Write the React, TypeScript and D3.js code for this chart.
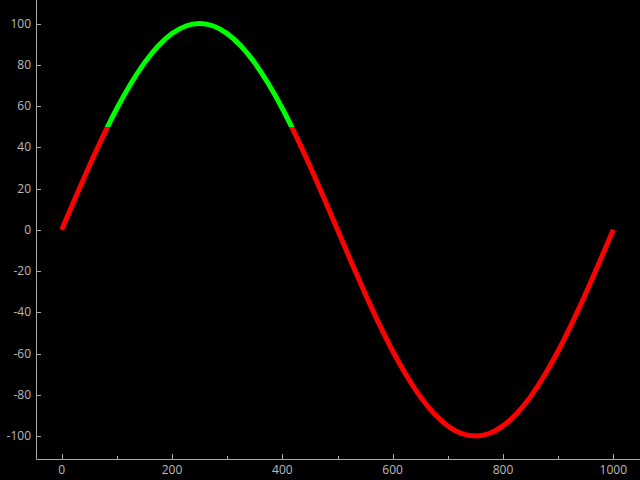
import React from "react";
import * as d3 from "d3";

const xValues = [0,25,50,75,100,125,150,175,200,225,250,275,300,325,350,375,400,425,450,475,500,525,550,575,600,625,650,675,700,725,750,775,800,825,850,875,900,925,950,975,1000];
const yValues = [0,15.6,30.9,45.4,58.8,70.7,80.9,89.1,95.1,98.8,100,98.8,95.1,89.1,80.9,70.7,58.8,45.4,30.9,15.6,0,-15.6,-30.9,-45.4,-58.8,-70.7,-80.9,-89.1,-95.1,-98.8,-100,-98.8,-95.1,-89.1,-80.9,-70.7,-58.8,-45.4,-30.9,-15.6,0];
const xTicks = [0,200,400,600,800,1000];
const xMinorTicks = [100,300,500,700,900];
const yTicks = [100,80,60,40,20,0,-20,-40,-60,-80,-100];
const threshold = 50;

const W = 640, H = 480;
const left = 36.5, bottom = 459.5;

export default function App() {
  const x = d3.scaleLinear().domain([0, 1000]).range([61.7, 613.3]);
  const y = d3.scaleLinear().domain([100, -100]).range([23.5, 436]);
  const pts = xValues.map((v, i) => [v, yValues[i]] as [number, number]);
  const line = d3.line<[number, number]>().x(d => x(d[0])).y(d => y(d[1])).curve(d3.curveNatural);
  const ty = y(threshold);
  const font = "'Open Sans', sans-serif";
  return (
    <svg width={W} height={H} style={{ position: "fixed", left: 0, top: 0, background: "#000" }}>
      <rect width={W} height={H} fill="#000" />
      <defs>
        <linearGradient id="g" gradientUnits="userSpaceOnUse" x1={0} x2={0} y1={0} y2={H}>
          <stop offset={ty / H} stopColor="#00ff00" />
          <stop offset={ty / H} stopColor="#ff0000" />
        </linearGradient>
      </defs>
      <line x1={left} x2={left} y1={0} y2={bottom} stroke="#aaa" strokeWidth={1} />
      <line x1={left} x2={W} y1={bottom} y2={bottom} stroke="#aaa" strokeWidth={1} />
      {yTicks.map(t => (
        <g key={"y" + t}>
          <line x1={left} x2={left + 4.5} y1={Math.round(y(t)) + 0.5} y2={Math.round(y(t)) + 0.5} stroke="#aaa" />
          <text x={31} y={y(t)} dy="0.35em" textAnchor="end" fill="#bbb" fontSize={12} fontFamily={font}>{t}</text>
        </g>
      ))}
      {xTicks.map(t => (
        <g key={"x" + t}>
          <line x1={Math.round(x(t)) + 0.5} x2={Math.round(x(t)) + 0.5} y1={bottom} y2={bottom - 5.5} stroke="#aaa" />
          <text x={x(t)} y={474} textAnchor="middle" fill="#bbb" fontSize={12} fontFamily={font}>{t}</text>
        </g>
      ))}
      {xMinorTicks.map(t => (
        <line key={"m" + t} x1={Math.round(x(t)) + 0.5} x2={Math.round(x(t)) + 0.5} y1={bottom} y2={bottom - 3.5} stroke="#aaa" />
      ))}
      <path d={line(pts) || ""} fill="none" stroke="url(#g)" strokeWidth={5} strokeLinecap="butt" />
    </svg>
  );
}
